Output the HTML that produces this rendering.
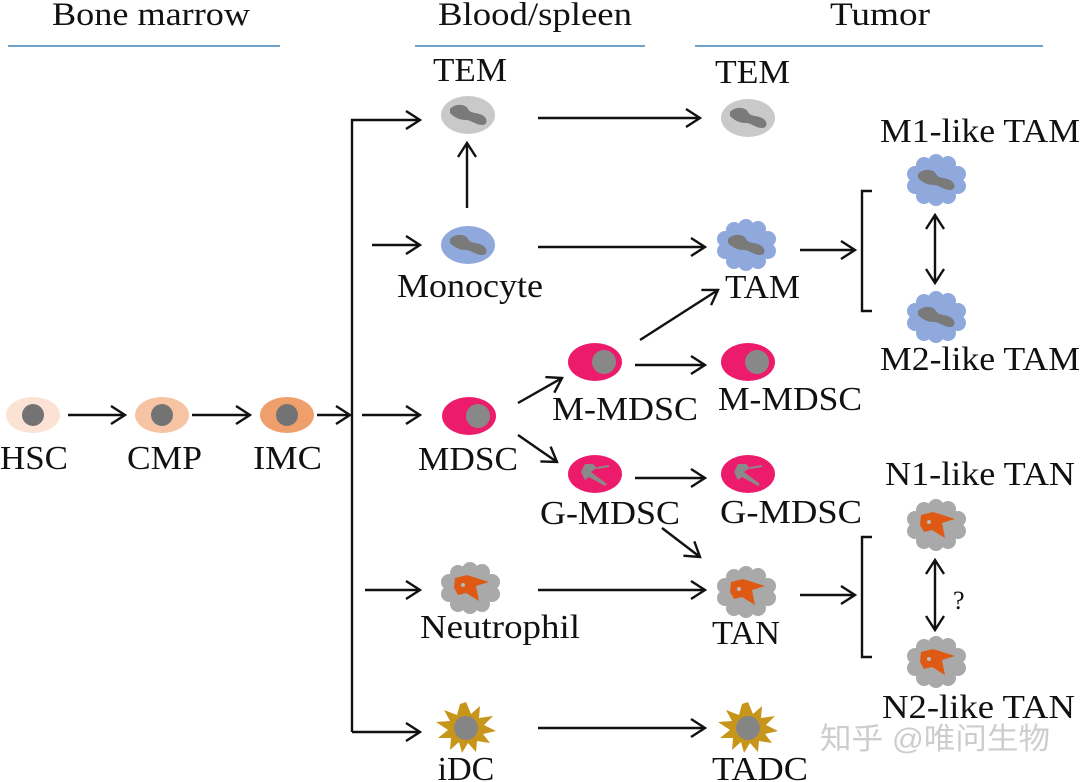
<!DOCTYPE html>
<html><head><meta charset="utf-8"><style>
html,body{margin:0;padding:0;background:#fff;}
svg{display:block;}
text{font-family:"Liberation Serif",serif;fill:#111;}
</style></head><body>
<svg width="1080" height="782" viewBox="0 0 1080 782" xmlns="http://www.w3.org/2000/svg">
<defs>
<marker id="ah" viewBox="0 0 20 20" refX="18" refY="10" markerWidth="20" markerHeight="20" markerUnits="userSpaceOnUse" orient="auto-start-reverse">
<path d="M4,1 L18,10 L4,19" fill="none" stroke="#111" stroke-width="2.4"/>
</marker>
<g id="nucM"><path d="M-18,-6 C-13,-12 -2,-11 0,-6 C3,-1 8,-3 14,0 C20,3 20,10 14,10 C8,10 3,5 -2,5 C-8,5 -13,3 -18,-2 Z" fill="#7a7a7a"/></g>
<g id="cloudB" fill="#8fa9dd">
<ellipse cx="0" cy="0" rx="24" ry="19"/>
<circle cx="-21" cy="-6" r="8"/><circle cx="-21" cy="6" r="8"/><circle cx="-12" cy="-15" r="8"/><circle cx="0" cy="-18" r="8"/><circle cx="12" cy="-16" r="8"/><circle cx="22" cy="-6" r="8"/><circle cx="22" cy="6" r="8"/><circle cx="12" cy="16" r="8"/><circle cx="0" cy="18" r="8"/><circle cx="-12" cy="16" r="8"/>
</g>
<g id="cloudG" fill="#a9a9a9">
<ellipse cx="0" cy="0" rx="24" ry="19"/>
<circle cx="-21" cy="-6" r="8"/><circle cx="-21" cy="6" r="8"/><circle cx="-12" cy="-15" r="8"/><circle cx="0" cy="-18" r="8"/><circle cx="12" cy="-16" r="8"/><circle cx="22" cy="-6" r="8"/><circle cx="22" cy="6" r="8"/><circle cx="12" cy="16" r="8"/><circle cx="0" cy="18" r="8"/><circle cx="-12" cy="16" r="8"/>
</g>
<g id="neut"><use href="#cloudG"/><path d="M-15,-10 L-3,-13 L19,-6 L6,-2 L9,13 L-4,5 L-12,7 L-16,0 Z" fill="#de5a14"/><circle cx="-7" cy="-3" r="2" fill="#bbb"/></g>
<g id="mono"><use href="#cloudB"/><use href="#nucM"/></g>
<g id="mdsc"><ellipse rx="27" ry="19" fill="#ec1b6c"/><circle cx="9" cy="0" r="12" fill="#888"/></g>
<g id="gmdsc"><ellipse rx="27" ry="19" fill="#ec1b6c"/><path d="M-14,-2 L-10,-10 L-2,-10 L2,-6 L-4,-2 L12,10 L10,12 L-6,3 L-10,6 Z" fill="#8a8a8a"/><path d="M2,-6 L14,-8" stroke="#8a8a8a" stroke-width="2"/></g>
<g id="dc"><polygon points="0,-26 5,-14 14,-22 13,-10 27,-12 18,-3 30,3 17,6 24,15 11,13 10,24 2,15 -4,25 -7,14 -16,22 -15,10 -28,10 -18,2 -30,-6 -16,-7 -22,-18 -9,-13 -6,-24" fill="#c6951a"/><circle r="12" fill="#858585"/></g>
</defs>

<g font-size="33">
<text x="52" y="25" textLength="198" lengthAdjust="spacingAndGlyphs">Bone marrow</text>
<text x="438" y="25" textLength="194" lengthAdjust="spacingAndGlyphs">Blood/spleen</text>
<text x="830" y="25" textLength="100" lengthAdjust="spacingAndGlyphs">Tumor</text>
</g>
<g stroke="#6fa3cf" stroke-width="2">
<line x1="8" y1="46" x2="280" y2="46"/>
<line x1="415" y1="46" x2="645" y2="46"/>
<line x1="695" y1="46" x2="1043" y2="46"/>
</g>

<ellipse cx="33" cy="415" rx="27" ry="18" fill="#fbe2d4"/><circle cx="33" cy="415" r="11" fill="#737373"/>
<ellipse cx="162" cy="415" rx="27" ry="18" fill="#f6c3a3"/><circle cx="162" cy="415" r="11" fill="#737373"/>
<ellipse cx="287" cy="415" rx="27" ry="18" fill="#ee9f6c"/><circle cx="287" cy="415" r="11" fill="#737373"/>

<g stroke="#111" stroke-width="2.4" fill="none" marker-end="url(#ah)">
<line x1="68" y1="415" x2="125" y2="415"/>
<line x1="192" y1="415" x2="250" y2="415"/>
<line x1="317" y1="415" x2="350" y2="415"/>
<polyline points="352,732 352,120 420,120"/>
<line x1="352" y1="732" x2="420" y2="732"/>
<line x1="372" y1="245" x2="420" y2="245"/>
<line x1="362" y1="415" x2="420" y2="415"/>
<line x1="365" y1="590" x2="420" y2="590"/>
<line x1="467" y1="208" x2="467" y2="143"/>
<line x1="518" y1="403" x2="562" y2="378"/>
<line x1="518" y1="435" x2="557" y2="462"/>
<line x1="640" y1="340" x2="718" y2="290"/>
<line x1="662" y1="528" x2="700" y2="557"/>
<line x1="538" y1="118" x2="700" y2="118"/>
<line x1="538" y1="247" x2="705" y2="247"/>
<line x1="635" y1="365" x2="705" y2="365"/>
<line x1="635" y1="478" x2="705" y2="478"/>
<line x1="538" y1="590" x2="705" y2="590"/>
<line x1="538" y1="728" x2="705" y2="728"/>
<line x1="800" y1="250" x2="855" y2="250"/>
<line x1="800" y1="595" x2="855" y2="595"/>
<line x1="935" y1="215" x2="935" y2="283" marker-start="url(#ah)"/>
<line x1="935" y1="560" x2="935" y2="630" marker-start="url(#ah)"/>
</g>
<g stroke="#111" stroke-width="2.4" fill="none">
<polyline points="872,191 862,191 862,311 872,311"/>
<polyline points="872,537 862,537 862,657 872,657"/>
</g>

<ellipse cx="468" cy="115" rx="27" ry="19" fill="#c9c9c9"/><use href="#nucM" x="468" y="115"/>
<ellipse cx="468" cy="245" rx="27" ry="19" fill="#8fa9dd"/><use href="#nucM" x="468" y="245"/>
<use href="#mdsc" x="469" y="416"/>
<use href="#mdsc" x="595" y="362"/>
<use href="#gmdsc" x="595" y="474"/>
<use href="#neut" x="470" y="588"/>
<use href="#dc" x="466" y="728"/>

<ellipse cx="748" cy="118" rx="27" ry="19" fill="#c9c9c9"/><use href="#nucM" x="748" y="118"/>
<use href="#mono" x="746" y="245"/>
<use href="#mdsc" x="748" y="362"/>
<use href="#gmdsc" x="748" y="474"/>
<use href="#neut" x="746" y="592"/>
<use href="#dc" x="748" y="728"/>
<use href="#mono" x="936" y="180"/>
<use href="#mono" x="936" y="317"/>
<use href="#neut" x="936" y="525"/>
<use href="#neut" x="936" y="662"/>

<g font-size="34">
<text x="0" y="469" textLength="68" lengthAdjust="spacingAndGlyphs">HSC</text>
<text x="127" y="469" textLength="75" lengthAdjust="spacingAndGlyphs">CMP</text>
<text x="253" y="469" textLength="69" lengthAdjust="spacingAndGlyphs">IMC</text>
<text x="433" y="81" textLength="74" lengthAdjust="spacingAndGlyphs">TEM</text>
<text x="397" y="297" textLength="146" lengthAdjust="spacingAndGlyphs">Monocyte</text>
<text x="418" y="470" textLength="100" lengthAdjust="spacingAndGlyphs">MDSC</text>
<text x="552" y="420" textLength="146" lengthAdjust="spacingAndGlyphs">M-MDSC</text>
<text x="540" y="524" textLength="140" lengthAdjust="spacingAndGlyphs">G-MDSC</text>
<text x="420" y="638" textLength="160" lengthAdjust="spacingAndGlyphs">Neutrophil</text>
<text x="466" y="780" text-anchor="middle">iDC</text>
<text x="715" y="83" textLength="75" lengthAdjust="spacingAndGlyphs">TEM</text>
<text x="725" y="298" textLength="75" lengthAdjust="spacingAndGlyphs">TAM</text>
<text x="718" y="410" textLength="144" lengthAdjust="spacingAndGlyphs">M-MDSC</text>
<text x="720" y="523" textLength="142" lengthAdjust="spacingAndGlyphs">G-MDSC</text>
<text x="712" y="644" textLength="68" lengthAdjust="spacingAndGlyphs">TAN</text>
<text x="712" y="780" textLength="96" lengthAdjust="spacingAndGlyphs">TADC</text>
<text x="880" y="142" textLength="200" lengthAdjust="spacingAndGlyphs">M1-like TAM</text>
<text x="880" y="370" textLength="200" lengthAdjust="spacingAndGlyphs">M2-like TAM</text>
<text x="885" y="485" textLength="190" lengthAdjust="spacingAndGlyphs">N1-like TAN</text>
<text x="882" y="718" textLength="193" lengthAdjust="spacingAndGlyphs">N2-like TAN</text>
</g>
<text x="953" y="609" font-size="26">?</text>
<text x="820" y="749" font-size="30" textLength="230" lengthAdjust="spacingAndGlyphs" style="font-family:'Liberation Sans','Noto Sans CJK SC',sans-serif;fill:#cdcdcd">知乎 @唯问生物</text>
</svg>
</body></html>
